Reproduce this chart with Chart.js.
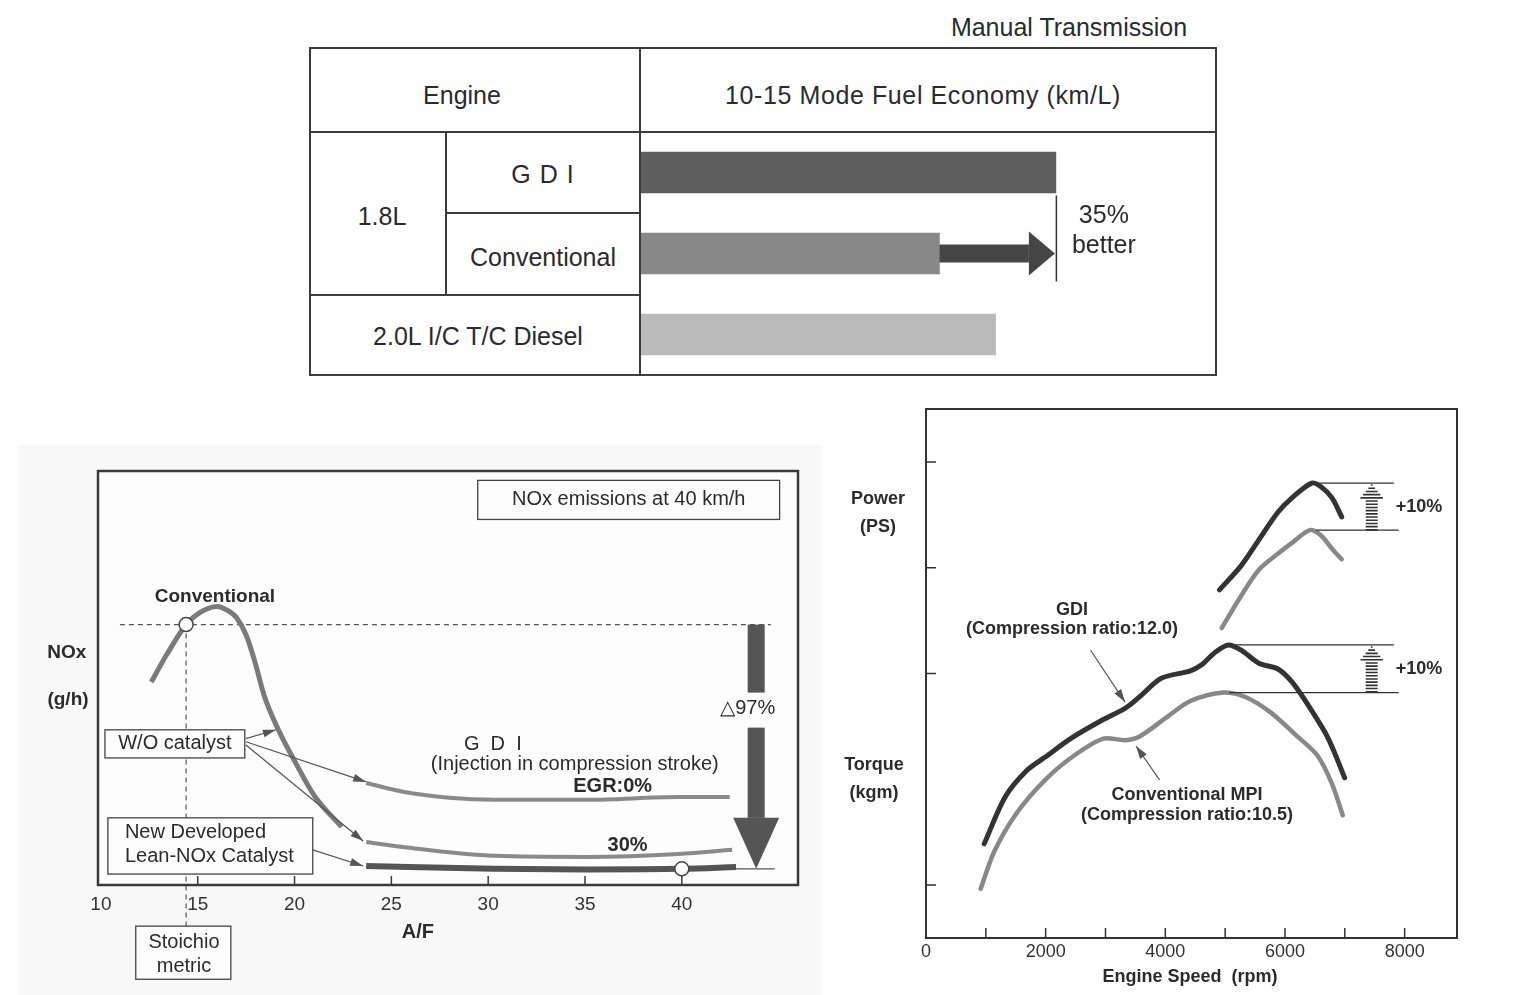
<!DOCTYPE html>
<html>
<head>
<meta charset="utf-8">
<title>GDI engine comparison</title>
<script src="https://cdn.jsdelivr.net/npm/chart.js@4.4.1/dist/chart.umd.min.js"></script>
<style>
body { margin:0; background:#fff; width:1528px; height:995px; position:relative; overflow:hidden; font-family:"Liberation Sans", Arial, sans-serif; color:#2b2b2b; }
.hl { position:absolute; height:2px; background:#3c3c3c; }
.vl { position:absolute; width:2px; background:#3c3c3c; }
.t { position:absolute; font-size:25px; white-space:nowrap; transform:translate(-50%,-50%); }
canvas { position:absolute; }
</style>
</head>
<body>
<div style="position:absolute;left:18px;top:445px;width:804px;height:550px;background:#f8f8f8"></div>

<canvas id="fuel" width="576" height="243" style="left:640px;top:132px"></canvas>
<canvas id="nox" width="820" height="545" style="left:0px;top:450px"></canvas>
<canvas id="power" width="700" height="600" style="left:820px;top:395px"></canvas>

<div class="hl" style="left:310px;top:47px;width:907px"></div>
<div class="hl" style="left:310px;top:131px;width:907px"></div>
<div class="hl" style="left:446px;top:212px;width:194px"></div>
<div class="hl" style="left:310px;top:294px;width:330px"></div>
<div class="hl" style="left:310px;top:374px;width:907px"></div>
<div class="vl" style="left:309px;top:47px;height:329px"></div>
<div class="vl" style="left:639px;top:47px;height:329px"></div>
<div class="vl" style="left:1215px;top:47px;height:329px"></div>
<div class="vl" style="left:445px;top:132px;height:163px"></div>

<div class="t" style="left:1069px;top:27px;font-size:25px">Manual Transmission</div>
<div class="t" style="left:462px;top:95px">Engine</div>
<div class="t" style="left:923px;top:95px;letter-spacing:0.6px">10-15 Mode Fuel Economy (km/L)</div>
<div class="t" style="left:543px;top:174px;letter-spacing:1px">G D I</div>
<div class="t" style="left:382px;top:216px">1.8L</div>
<div class="t" style="left:543px;top:257px">Conventional</div>
<div class="t" style="left:478px;top:336px">2.0L I/C T/C Diesel</div>

<script>
// fuel economy (km/L)
var engines = ["GDI", "Conventional", "2.0L I/C T/C Diesel"];
var economy = [20.0, 14.4, 17.1];

// NOx vs A/F
var afTicks = [10, 15, 20, 25, 30, 35, 40];
var convAF = [12.6, 13.4, 14.4, 15.1, 16.0, 16.65, 17.0, 17.5, 17.95, 18.43, 19.14, 20.05, 21.05, 22.43];
var convNOx = [78, 88.5, 100, 104.6, 107, 105, 102.7, 96, 85.8, 72.8, 60, 47, 34, 22.3];
var egr0AF = [23.7, 25.6, 27.97, 30.34, 35.1, 39.84, 42.47];
var egr0NOx = [39.2, 35.8, 33.5, 32.7, 32.7, 33.8, 33.8];
var egr30AF = [23.7, 25.6, 30.34, 35.1, 39.84, 42.6];
var egr30NOx = [16.5, 14.6, 11.2, 10.8, 11.9, 13.5];
var leanAF = [23.7, 30.3, 35.1, 40, 42.8];
var leanNOx = [7.3, 6.2, 6.0, 6.2, 6.9];
var stoichIndex = 2;
var leanMark = 3;

// power / torque vs engine speed
var rpmTicks = [0, 1000, 2000, 3000, 4000, 5000, 6000, 7000, 8000];
var yTicks = [10, 50, 70, 90];
var gdiTqRpm = [973, 1325, 1688, 1992, 2417, 2963, 3326, 3570, 3933, 4419, 4601, 4844, 5056, 5268, 5571, 5875, 6117, 6422, 6724, 6997];
var gdiTq = [17.8, 26.7, 31.7, 34.2, 37.7, 41.3, 43.4, 45.6, 49.1, 50.5, 51.6, 54.1, 55.4, 54.4, 51.9, 50.9, 48.4, 43.4, 37.7, 30.3];
var mpiTqRpm = [913, 1143, 1508, 1992, 2477, 2963, 3326, 3570, 4055, 4419, 4964, 5328, 5753, 6178, 6542, 6784, 6966];
var mpiTq = [9.3, 16.4, 23.5, 29.9, 34.5, 37.7, 37.4, 38.1, 42.0, 44.8, 46.4, 45.6, 42.7, 38.4, 34.5, 29.2, 23.2];
var gdiPsRpm = [4904, 5268, 5571, 5875, 6117, 6447, 6602, 6786, 6948];
var gdiPs = [65.8, 70.4, 75.4, 80.4, 83.2, 86.0, 85.3, 83.2, 79.6];
var mpiPsRpm = [4942, 5268, 5571, 5875, 6117, 6418, 6602, 6786, 6948];
var mpiPs = [58.6, 64.7, 69.7, 72.6, 74.7, 77.1, 76.1, 73.6, 71.6];

var FONT = '"Liberation Sans", Arial, sans-serif';
Chart.defaults.font.family = FONT;

function pts(xs, ys) {
	return xs.map(function(v, i) { return {x: v, y: ys[i]}; });
}

function label(ctx, s, x, y, font, align) {
	ctx.save();
	ctx.font = font;
	ctx.fillStyle = "#2b2b2b";
	ctx.textAlign = align || "center";
	ctx.textBaseline = "middle";
	ctx.fillText(s, x, y);
	ctx.restore();
}

function thinArrow(ctx, x1, y1, x2, y2) {
	var a = Math.atan2(y2 - y1, x2 - x1);
	ctx.save();
	ctx.strokeStyle = "#555";
	ctx.fillStyle = "#555";
	ctx.lineWidth = 1.2;
	ctx.beginPath();
	ctx.moveTo(x1, y1);
	ctx.lineTo(x2, y2);
	ctx.stroke();
	ctx.beginPath();
	ctx.moveTo(x2, y2);
	ctx.lineTo(x2 - 13 * Math.cos(a) + 4 * Math.sin(a), y2 - 13 * Math.sin(a) - 4 * Math.cos(a));
	ctx.lineTo(x2 - 13 * Math.cos(a) - 4 * Math.sin(a), y2 - 13 * Math.sin(a) + 4 * Math.cos(a));
	ctx.closePath();
	ctx.fill();
	ctx.restore();
}

// ---------- top: fuel economy bars ----------
var fuelDecor = {
	id: "fuelDecor",
	afterDatasetsDraw: function(chart) {
		var ctx = chart.ctx, x = chart.scales.x, y = chart.scales.y;
		var x0 = x.getPixelForValue(economy[1]);
		var x1 = x.getPixelForValue(economy[0]);
		var yc = y.getPixelForValue(1);
		ctx.save();
		ctx.fillStyle = "#454545";
		ctx.fillRect(x0, yc - 9, x1 - 27 - x0, 18);
		ctx.beginPath();
		ctx.moveTo(x1 - 27, yc - 22);
		ctx.lineTo(x1 - 1, yc);
		ctx.lineTo(x1 - 27, yc + 22);
		ctx.closePath();
		ctx.fill();
		ctx.strokeStyle = "#333";
		ctx.lineWidth = 1.5;
		ctx.beginPath();
		ctx.moveTo(x1 + 0.5, y.getPixelForValue(0) + 23);
		ctx.lineTo(x1 + 0.5, yc + 28);
		ctx.stroke();
		ctx.restore();
		var mid = (y.getPixelForValue(0) + yc) / 2;
		label(ctx, "35%", x1 + 48, mid + 3, "25px " + FONT);
		label(ctx, "better", x1 + 48, mid + 33, "25px " + FONT);
	}
};

new Chart(document.getElementById("fuel"), {
	type: "bar",
	data: {
		labels: engines,
		datasets: [{
			data: economy,
			backgroundColor: ["#5e5e5e", "#888888", "#bababa"],
			borderWidth: 0,
			barThickness: 41
		}]
	},
	options: {
		indexAxis: "y",
		responsive: false,
		animation: false,
		layout: { padding: 0 },
		plugins: { legend: { display: false }, tooltip: { enabled: false } },
		scales: {
			x: { display: false, min: 0, max: 27.7 },
			y: { display: false }
		}
	},
	plugins: [fuelDecor]
});

// ---------- bottom left: NOx ----------
var noxDecor = {
	id: "noxDecor",
	beforeDraw: function(chart) {
		var ca = chart.chartArea, ctx = chart.ctx;
		ctx.save();
		ctx.fillStyle = "#fdfdfd";
		ctx.fillRect(ca.left, ca.top, ca.width, ca.height);
		ctx.restore();
	},
	beforeDatasetsDraw: function(chart) {
		var ctx = chart.ctx, ca = chart.chartArea;
		var X = function(v) { return chart.scales.x.getPixelForValue(v); };
		var Y = function(v) { return chart.scales.y.getPixelForValue(v); };
		ctx.save();
		ctx.strokeStyle = "#555";
		ctx.lineWidth = 1.2;
		ctx.setLineDash([5, 4]);
		ctx.beginPath();
		ctx.moveTo(X(10.98), Y(convNOx[stoichIndex]));
		ctx.lineTo(X(44.6), Y(convNOx[stoichIndex]));
		ctx.moveTo(X(convAF[stoichIndex]), Y(convNOx[stoichIndex]));
		ctx.lineTo(X(convAF[stoichIndex]), Y(-15.8));
		ctx.stroke();
		ctx.restore();
	},
	afterDatasetsDraw: function(chart) {
		var ctx = chart.ctx, ca = chart.chartArea;
		var X = function(v) { return chart.scales.x.getPixelForValue(v); };
		var Y = function(v) { return chart.scales.y.getPixelForValue(v); };
		var f = "20px " + FONT, fb = "bold 20px " + FONT;
		ctx.save();
		ctx.strokeStyle = "#3a3a3a";
		ctx.lineWidth = 2.5;
		ctx.strokeRect(ca.left, ca.top, ca.width, ca.height);
		ctx.lineWidth = 1.5;
		ctx.beginPath();
		afTicks.slice(1).forEach(function(v) {
			ctx.moveTo(X(v), ca.bottom);
			ctx.lineTo(X(v), ca.bottom - 9);
		});
		ctx.stroke();

		// text boxes
		ctx.lineWidth = 1.3;
		ctx.strokeStyle = "#444";
		[[29.46, 155.4, 45.05, 140.4], [10.21, 59.6, 17.43, 48.8], [10.36, 25.8, 20.94, 4.2], [11.8, -15.8, 16.71, -36.2]].forEach(function(b) {
			ctx.fillStyle = "#fdfdfd";
			ctx.fillRect(X(b[0]), Y(b[1]), X(b[2]) - X(b[0]), Y(b[3]) - Y(b[1]));
			ctx.strokeRect(X(b[0]), Y(b[1]), X(b[2]) - X(b[0]), Y(b[3]) - Y(b[1]));
		});
		ctx.restore();

		thinArrow(ctx, X(17.49), Y(56.2), X(convAF[10]) - 2, Y(convNOx[10]) + 1);
		thinArrow(ctx, X(17.49), Y(55), X(egr0AF[0]), Y(egr0NOx[0]) - 1);
		thinArrow(ctx, X(17.49), Y(53.8), X(egr30AF[0]) - 3, Y(egr30NOx[0]) - 1);
		thinArrow(ctx, X(20.94), Y(13.5), X(leanAF[0]) - 3, Y(leanNOx[0]));

		// 97% reduction arrow
		var ax = X(43.84), top = Y(convNOx[stoichIndex]), tip = Y(leanNOx[leanMark]);
		ctx.save();
		ctx.fillStyle = "#555";
		ctx.fillRect(ax - 8.5, top, 17, 68);
		ctx.fillRect(ax - 8.5, top + 103, 17, tip - 51 - top - 103);
		ctx.beginPath();
		ctx.moveTo(ax - 23, tip - 51);
		ctx.lineTo(ax + 23, tip - 51);
		ctx.lineTo(ax, tip);
		ctx.closePath();
		ctx.fill();
		ctx.strokeStyle = "#555";
		ctx.lineWidth = 1.3;
		ctx.beginPath();
		ctx.moveTo(X(42.73), tip);
		ctx.lineTo(X(44.8), tip);
		ctx.stroke();
		ctx.restore();

		label(ctx, "NOx emissions at 40 km/h", X(37.26), Y(148), f);
		label(ctx, "W/O catalyst", X(13.82), Y(54.2), f);
		label(ctx, "New Developed", X(11.24), Y(20), f, "left");
		label(ctx, "Lean-NOx Catalyst", X(11.24), Y(10.8), f, "left");
		label(ctx, "Stoichio", X(14.29), Y(-21.9), f);
		label(ctx, "metric", X(14.29), Y(-31.2), f);
		label(ctx, "Conventional", X(15.89), Y(110.8), "bold 19px " + FONT);
		label(ctx, "G  D  I", X(30.24), Y(53.8), f);
		label(ctx, "(Injection in compression stroke)", X(34.47), Y(46.2), f);
		label(ctx, "EGR:0%", X(36.43), Y(37.7), fb);
		label(ctx, "30%", X(37.2), Y(15), fb);
		label(ctx, "\u25B397%", X(43.4), Y(67.7), f);
		label(ctx, "A/F", X(26.37), Y(-18.1), fb);
		label(ctx, "NOx", X(8.24), Y(89.2), "bold 19px " + FONT);
		label(ctx, "(g/h)", X(8.3), Y(71.2), "bold 19px " + FONT);
	}
};

new Chart(document.getElementById("nox"), {
	type: "line",
	data: {
		datasets: [
			{ data: pts(egr0AF, egr0NOx), borderColor: "#8a8a8a", borderWidth: 4, pointRadius: 0 },
			{ data: pts(egr30AF, egr30NOx), borderColor: "#8a8a8a", borderWidth: 4, pointRadius: 0 },
			{
				data: pts(leanAF, leanNOx), borderColor: "#555", borderWidth: 6,
				pointRadius: function(c) { return c.dataIndex === leanMark ? 7 : 0; },
				pointBackgroundColor: "#fff", pointBorderColor: "#444", pointBorderWidth: 1.5
			},
			{
				data: pts(convAF, convNOx), borderColor: "#7a7a7a", borderWidth: 5,
				pointRadius: function(c) { return c.dataIndex === stoichIndex ? 7 : 0; },
				pointBackgroundColor: "#fff", pointBorderColor: "#444", pointBorderWidth: 1.5
			}
		]
	},
	options: {
		responsive: false,
		animation: false,
		layout: { padding: { left: 98, top: 21, right: 22, bottom: 0 } },
		elements: { line: { cubicInterpolationMode: "monotone" } },
		plugins: { legend: { display: false }, tooltip: { enabled: false } },
		scales: {
			x: {
				type: "linear", min: 9.85, max: 46,
				afterFit: function(s) { s.height = 110; },
				afterBuildTicks: function(s) { s.ticks = afTicks.map(function(v) { return {value: v}; }); },
				grid: { display: false, drawTicks: false },
				border: { display: false },
				ticks: { padding: 8, color: "#333", font: { size: 19 }, maxRotation: 0, autoSkip: false }
			},
			y: { display: false, min: 0, max: 159 }
		}
	},
	plugins: [noxDecor]
});

// ---------- bottom right: power / torque ----------
function hatchArrow(ctx, x, yBottom, yTop) {
	ctx.save();
	ctx.strokeStyle = "#333";
	ctx.lineWidth = 1.6;
	ctx.beginPath();
	for (var yy = yTop + 1; yy <= yBottom; yy += 3.2) {
		var hw = yy < yTop + 16 ? 13 * (yy - yTop) / 16 : 6;
		ctx.moveTo(x - hw, yy);
		ctx.lineTo(x + hw, yy);
	}
	ctx.stroke();
	ctx.restore();
}

var powerDecor = {
	id: "powerDecor",
	afterDatasetsDraw: function(chart) {
		var ctx = chart.ctx, ca = chart.chartArea;
		var X = function(v) { return chart.scales.x.getPixelForValue(v); };
		var Y = function(v) { return chart.scales.y.getPixelForValue(v); };
		var fb = "bold 18px " + FONT;
		ctx.save();
		ctx.strokeStyle = "#333";
		ctx.lineWidth = 2;
		ctx.strokeRect(ca.left, ca.top, ca.width, ca.height);
		ctx.lineWidth = 1.5;
		ctx.beginPath();
		yTicks.forEach(function(v) {
			ctx.moveTo(ca.left, Y(v));
			ctx.lineTo(ca.left + 10, Y(v));
		});
		rpmTicks.slice(1).forEach(function(v) {
			ctx.moveTo(X(v), ca.bottom);
			ctx.lineTo(X(v), ca.bottom - 10);
		});
		ctx.stroke();

		// +10% reference lines at the peaks
		var pairs = [[gdiPsRpm, gdiPs, mpiPsRpm, mpiPs], [gdiTqRpm, gdiTq, mpiTqRpm, mpiTq]];
		ctx.lineWidth = 1.2;
		pairs.forEach(function(p) {
			var gMax = Math.max.apply(null, p[1]), mMax = Math.max.apply(null, p[3]);
			var gRpm = p[0][p[1].indexOf(gMax)], mRpm = p[2][p[3].indexOf(mMax)];
			ctx.beginPath();
			ctx.moveTo(X(gRpm) + 6, Y(gMax));
			ctx.lineTo(X(7820), Y(gMax));
			ctx.moveTo(X(mRpm) + 6, Y(mMax));
			ctx.lineTo(X(7900), Y(mMax));
			ctx.stroke();
			hatchArrow(ctx, X(7449), Y(mMax), Y(gMax) + 1);
			label(ctx, "+10%", X(8240), (Y(gMax) + Y(mMax)) / 2, fb);
		});
		ctx.restore();

		thinArrow(ctx, X(2751), Y(54.4), X(gdiTqRpm[6]), Y(gdiTq[6] + 1.2));
		thinArrow(ctx, X(3903), Y(29.9), X(3510), Y(36.3));

		label(ctx, "GDI", X(2440), Y(62.0), fb);
		label(ctx, "(Compression ratio:12.0)", X(2440), Y(58.4), fb);
		label(ctx, "Conventional MPI", X(4362), Y(27.0), fb);
		label(ctx, "(Compression ratio:10.5)", X(4362), Y(23.3), fb);
		label(ctx, "Power", ca.left - 48, Y(83), fb);
		label(ctx, "(PS)", ca.left - 48, Y(77.7), fb);
		label(ctx, "Torque", ca.left - 52, Y(32.7), fb);
		label(ctx, "(kgm)", ca.left - 52, Y(27.4), fb);
		label(ctx, "Engine Speed  (rpm)", X(4412), ca.bottom + 39, fb);
	}
};

new Chart(document.getElementById("power"), {
	type: "line",
	data: {
		datasets: [
			{ data: pts(mpiTqRpm, mpiTq), borderColor: "#888", borderWidth: 4.5 },
			{ data: pts(mpiPsRpm, mpiPs), borderColor: "#888", borderWidth: 4.5 },
			{ data: pts(gdiTqRpm, gdiTq), borderColor: "#333", borderWidth: 5 },
			{ data: pts(gdiPsRpm, gdiPs), borderColor: "#333", borderWidth: 5 }
		]
	},
	options: {
		responsive: false,
		animation: false,
		layout: { padding: { left: 106, top: 14, right: 63, bottom: 0 } },
		elements: { point: { radius: 0 }, line: { tension: 0.3, borderCapStyle: "round" } },
		plugins: { legend: { display: false }, tooltip: { enabled: false } },
		scales: {
			x: {
				type: "linear", min: 0, max: 8875,
				afterFit: function(s) { s.height = 57; },
				afterBuildTicks: function(s) { s.ticks = rpmTicks.map(function(v) { return {value: v}; }); },
				grid: { display: false, drawTicks: false },
				border: { display: false },
				ticks: {
					padding: 3, color: "#333", font: { size: 18 }, maxRotation: 0, autoSkip: false,
					callback: function(v) { return v % 2000 === 0 ? v : ""; }
				}
			},
			y: { display: false, min: 0, max: 100 }
		}
	},
	plugins: [powerDecor]
});
</script>
</body>
</html>
